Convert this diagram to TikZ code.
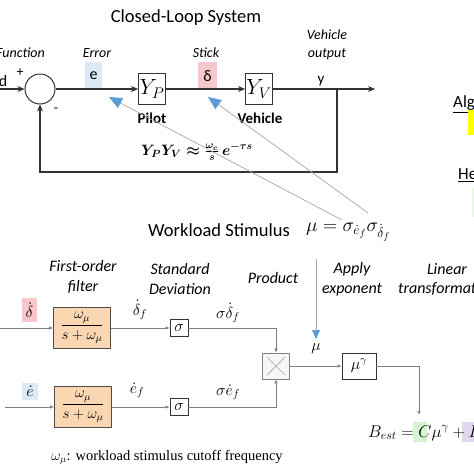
\RequirePackage{fix-cm}
\documentclass[tikz,border=0pt]{standalone}
\usepackage{amsmath}
\usepackage{amssymb}
\usepackage{fontspec}
\setmainfont{Carlito}
\newfontfamily\timesfont{Liberation Serif}
\usepackage{tikz}
\usetikzlibrary{shapes,positioning,calc}
\usetikzlibrary{arrows.meta}
\definecolor{azzurro}{HTML}{DCE9F8}
\definecolor{rosa}{HTML}{F7C8CB}
\definecolor{pesca}{HTML}{FBD6B3}
\definecolor{blufreccia}{HTML}{5B9BD5}
\definecolor{grigio}{HTML}{7F7F7F}
\definecolor{grigiochiaro}{HTML}{A6A6A6}
\definecolor{verdino}{HTML}{D4F5D0}
\definecolor{lilla}{HTML}{E2D6EC}
\definecolor{giallo}{HTML}{FFFF00}
\definecolor{verdepallido}{HTML}{E8F7E4}
\tikzstyle{blocco} = [rectangle, draw=black!80, line width=0.8pt,
minimum width=27pt, minimum height=31pt, inner sep=1pt, font=\fontsize{22}{24}\selectfont]
\tikzstyle{somma} = [circle, draw=black!80, line width=1pt, minimum size=30pt, inner sep=0pt]
\tikzstyle{freccia} = [line width=1.2pt, draw=black!80, -{Stealth[length=7pt,width=6pt]}]
\tikzstyle{linea} = [line width=1.2pt, draw=black!80]
\tikzstyle{puntatore} = [draw=grigiochiaro, line width=0.7pt, -{Triangle[length=13pt,width=11pt,color=blufreccia]}]
\tikzstyle{puntatorino} = [draw=grigiochiaro, line width=0.7pt, -{Triangle[length=9pt,width=8pt,color=blufreccia]}]
\tikzstyle{etichetta} = [font=\fontsize{14}{18}\selectfont\itshape, align=center, inner sep=0pt]
\tikzstyle{titolo} = [font=\fontsize{16}{20}\selectfont\itshape, align=center, inner sep=0pt]
\tikzstyle{grassetto} = [font=\fontsize{15}{17}\selectfont\bfseries, inner sep=0pt]
\tikzstyle{evidenza} = [rectangle, inner sep=0pt, minimum width=17pt, minimum height=28pt, font=\fontsize{16}{18}\selectfont]
\tikzstyle{filtro} = [rectangle, draw=black!70, fill=pesca, line width=0.8pt,
minimum width=57pt, minimum height=41pt, inner sep=1pt, font=\fontsize{15}{17}\selectfont]
\tikzstyle{scatola} = [rectangle, draw=black!80, line width=0.8pt,
minimum width=18pt, minimum height=17pt, inner sep=1pt, font=\fontsize{16}{18}\selectfont]
\tikzstyle{prodotto} = [rectangle, draw=grigio, fill=black!3, line width=0.8pt, minimum width=27pt, minimum height=26pt,
path picture={\draw[grigiochiaro, line width=0.7pt]
($(path picture bounding box.south west)+(4.5pt,4pt)$) -- ($(path picture bounding box.north east)+(-4.5pt,-4pt)$)
($(path picture bounding box.north west)+(4.5pt,-4pt)$) -- ($(path picture bounding box.south east)+(-4.5pt,4pt)$);}]
\tikzstyle{grigia} = [draw=grigio, line width=0.7pt, -{Latex[length=4pt,width=3.5pt]}]
\tikzstyle{mate} = [font=\fontsize{16}{18}\selectfont, inner sep=0pt]

\begin{document}
\begin{tikzpicture}[x=1pt,y=-1pt]
	\useasboundingbox (0,0) rectangle (474,474);
	\clip (0,0) rectangle (474,474);
	% anello chiuso
	\node (tit) at (186,18) [font=\fontsize{18.5}{20}\selectfont] {Closed-Loop System};
	\node (fun) at (45,53) [etichetta, anchor=east] {Function};
	\node (err) at (97,53) [etichetta] {Error};
	\node (sti) at (206,53) [etichetta] {Stick};
	\node (vout) at (327,45) [etichetta] {Vehicle\\output};
	\node (he) at (93.5,76) [evidenza, fill=azzurro] {e};
	\node (hd) at (207.5,76) [evidenza, fill=rosa, minimum width=19pt] {δ};
	\node (din) at (7.5,81) [anchor=east, inner sep=0pt, font=\fontsize{16}{18}\selectfont] {d};
	\node (piu) at (20,73) [inner sep=0pt, font=\fontsize{14}{16}\selectfont] {+};
	\node (meno) at (56,110) [inner sep=0pt, font=\fontsize{14}{16}\selectfont] {-};
	\node (yl) at (321,81) [inner sep=0pt, font=\fontsize{15}{17}\selectfont] {y};
	\node (sum) at (40,89) [somma] {};
	\node (yp) at (152,89) [blocco] {$Y_P$};
	\node (yv) at (259,89) [blocco] {$Y_V$};
	\node (pil) at (152,118) [grassetto] {Pilot};
	\node (veh) at (260,118) [grassetto] {Vehicle};
	\node (fdt) at (197,152) [font=\fontsize{15}{17}\selectfont\boldmath] {$Y_P Y_V \approx \frac{\omega_c}{s}\, e^{-\tau s}$};
	\coordinate (dst) at (0,89);
	\coordinate (tap) at (337,89);
	\coordinate (yout) at (375,89);
	\coordinate (fbl) at (40,172);
	\draw[freccia] (dst) -- (sum);
	\draw[freccia] (sum) -- (yp);
	\draw[freccia] (yp) -- (yv);
	\draw[freccia] (yv) -- (yout);
	\draw[freccia] (tap) |- (fbl) -- (sum);
	% lato destro
	\node (alg) at (453,107) [anchor=base west, inner sep=0pt, font=\fontsize{17}{19}\selectfont] {\underline{Alg}};
	\fill[giallo] (468,110) rectangle (474,135);
	\node (hea) at (458,179) [anchor=base west, inner sep=0pt, font=\fontsize{17}{19}\selectfont] {\underline{He}};
	\fill[verdepallido] (472,188) rectangle (474,217);
	% stimolo
	\node (wls) at (219,230) [font=\fontsize{18.5}{20}\selectfont] {Workload Stimulus};
	\node (mueq) at (306,232) [anchor=west, inner sep=0pt, font=\fontsize{19.5}{21}\selectfont] {$\mu = \sigma_{\dot{e}_f}\sigma_{\dot{\delta}_f}$};
	\coordinate (pe0) at (342,220);
	\coordinate (pe1) at (109,97);
	\coordinate (pd0) at (368,213);
	\coordinate (pd1) at (208,97);
	\draw[puntatore] (pe0) -- (pe1);
	\draw[puntatore] (pd0) -- (pd1);
	% stima del carico
	\node (tfo) at (83,277) [titolo] {First-order\\filter};
	\node (tsd) at (180,279) [titolo] {Standard\\Deviation};
	\node (tpr) at (273,278) [titolo] {Product};
	\node (tae) at (352,279) [titolo] {Apply\\exponent};
	\node (tli) at (447,269) [titolo] {Linear};
	\node (ttr) at (398,289) [titolo, anchor=west] {transformat};
	\node (hdd) at (29.5,310) [evidenza, fill=rosa, minimum width=15pt, minimum height=24pt] {$\dot{\delta}$};
	\node (hed) at (30,391.5) [evidenza, fill=azzurro, minimum width=16pt, minimum height=17pt] {$\dot{e}$};
	\node (f1) at (82,328) [filtro] {$\dfrac{\omega_\mu}{s+\omega_\mu}$};
	\node (f2) at (83,407) [filtro] {$\dfrac{\omega_\mu}{s+\omega_\mu}$};
	\node (s1) at (179,328) [scatola] {$\sigma$};
	\node (s2) at (179,407) [scatola] {$\sigma$};
	\node (px) at (276,366) [prodotto] {};
	\node (mg) at (359,366) [scatola, minimum width=34pt, minimum height=26pt] {$\mu^\gamma$};
	\node (ldf) at (140,310) [mate] {$\dot{\delta}_f$};
	\node (lef) at (137,390) [mate] {$\dot{e}_f$};
	\node (lsd) at (228,313) [mate] {$\sigma\dot{\delta}_f$};
	\node (lse) at (228,392) [mate] {$\sigma\dot{e}_f$};
	\node (lmu) at (316,349) [mate] {$\mu$};
	\coordinate (in1) at (0,328);
	\coordinate (in2) at (5,407);
	\coordinate (bhit) at (419,415);
	\coordinate (pm0) at (316,259);
	\coordinate (pm1) at (316,339);
	\draw[grigia] (in1) -- (f1);
	\draw[grigia] (in2) -- (f2);
	\draw[grigia] (f1) -- (s1);
	\draw[grigia] (f2) -- (s2);
	\draw[grigia] (s1) -| (px);
	\draw[grigia] (s2) -| (px);
	\draw[grigia] (px) -- (mg);
	\draw[grigia] (mg) -| (bhit);
	\draw[puntatorino] (pm0) -- (pm1);
	\fill[verdino] (413,422) rectangle (427,442);
	\fill[lilla] (462,422) rectangle (478,442);
	\node (best) at (368,437) [anchor=base west, inner sep=0pt, font=\fontsize{17}{19}\selectfont] {$B_{est} = C\mu^{\gamma} + D$};
	\node (nota) at (167,457) [font=\fontsize{14.5}{16}\selectfont\timesfont] {$\omega_\mu$: workload stimulus cutoff frequency};
\end{tikzpicture}
\end{document}
